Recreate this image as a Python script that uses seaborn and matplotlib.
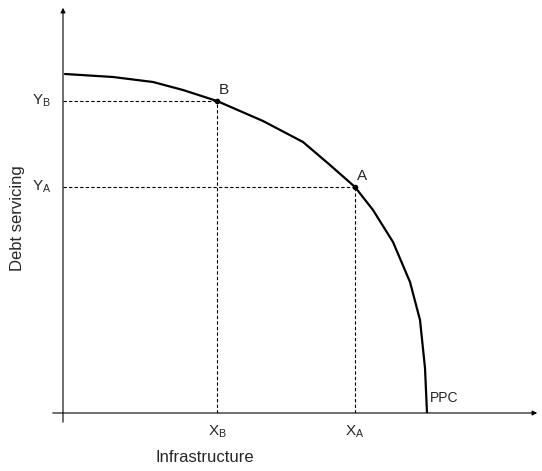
import matplotlib
matplotlib.use("Agg")
import matplotlib.pyplot as plt
import seaborn as sns
import pandas as pd

# PPC curve (x = infrastructure, y = debt servicing), schematic units
curve_x = [2, 50, 90, 120, 154, 200, 240, 267, 292, 310, 330, 347, 357, 362, 364]
curve_y = [339, 336, 331, 323, 312, 292, 271, 248, 226, 203, 171, 131, 93, 45, 0]
point_b = (154, 312)
point_a = (292, 226)

sns.set_style("white")
plt.rcParams['font.family'] = ['Liberation Sans', 'DejaVu Sans']
plt.rcParams['mathtext.fontset'] = 'custom'
plt.rcParams['mathtext.rm'] = 'Liberation Sans'

fig = plt.figure(figsize=(5.42, 4.71), dpi=100)
ax = fig.add_axes([63 / 542, 58 / 471, 477 / 542, 408 / 471])
ax.set_xlim(0, 477)
ax.set_ylim(0, 408)
ax.axis("off")

df = pd.DataFrame({"x": curve_x, "y": curve_y})
sns.lineplot(data=df, x="x", y="y", sort=False, color="black", lw=1.6, ax=ax)

# axes with arrows
ax.annotate("", xy=(477, 0), xytext=(-13, 0),
            arrowprops=dict(arrowstyle="-|>", color="black", lw=0.8, mutation_scale=7),
            annotation_clip=False)
ax.annotate("", xy=(0, 408), xytext=(0, -12),
            arrowprops=dict(arrowstyle="-|>", color="black", lw=0.8, mutation_scale=7),
            annotation_clip=False)

for (px, py), name in [(point_b, "B"), (point_a, "A")]:
    ax.plot([px, px], [0, py], ls="--", color="black", lw=0.8, dashes=(3, 2))
    ax.plot([0, px], [py, py], ls="--", color="black", lw=0.8, dashes=(3, 2))
    ax.plot(px, py, "o", color="black", ms=3)
    ax.text(px + 2, py + 4, name, fontsize=11, ha="left", va="bottom")
    ax.text(px, -10, f"X$_{{\\mathrm{{{name}}}}}$", fontsize=11, ha="center", va="top")
    ax.text(-12, py, f"Y$_{{\\mathrm{{{name}}}}}$", fontsize=11, ha="right", va="center")

ax.text(367, 8, "PPC", fontsize=10, ha="left", va="bottom")
fig.text(205 / 542, 1 - 457 / 471, "Infrastructure", fontsize=12, ha="center", va="center")
fig.text(18 / 542, 1 - 218 / 471, "Debt servicing", fontsize=12, ha="center", va="center", rotation=90)

fig.savefig("out.png", dpi=100)
